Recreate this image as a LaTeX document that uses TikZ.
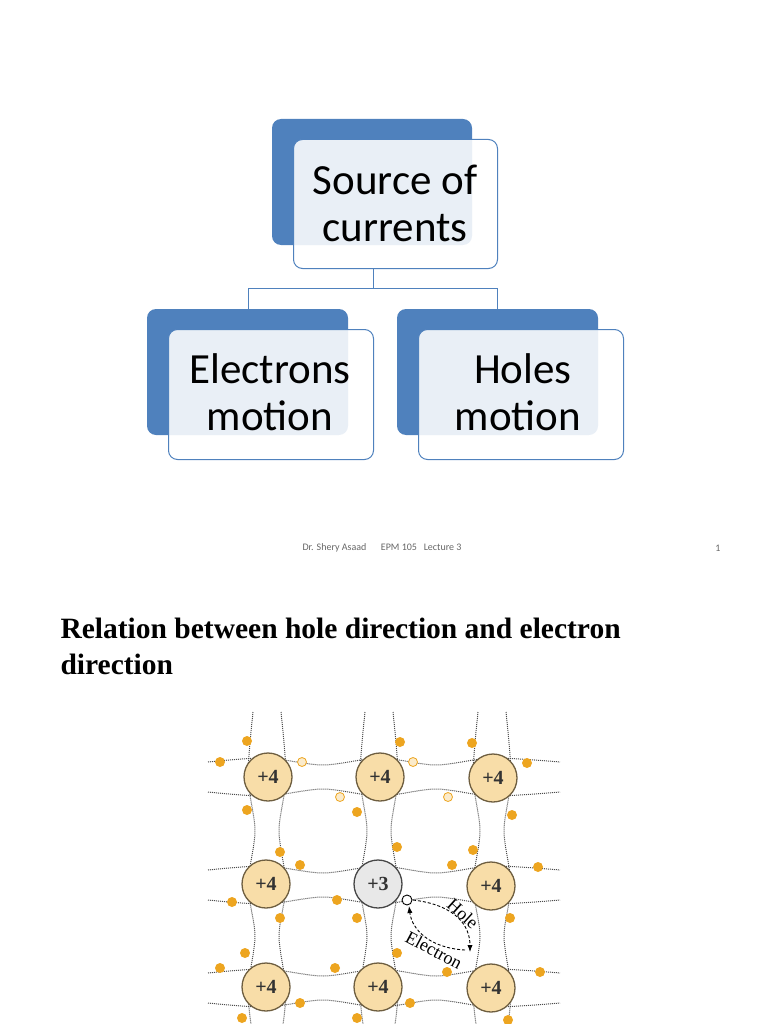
\documentclass[tikz,border=0pt]{standalone}
\usepackage{fontspec}
\setmainfont{Carlito}
\newfontfamily\tms{Liberation Serif}
\usetikzlibrary{arrows.meta}
\definecolor{bbl}{HTML}{4F81BD}
\definecolor{atomf}{HTML}{F8DDA8}
\definecolor{atomd}{HTML}{6E5E40}
\definecolor{elec}{HTML}{EDA520}
\begin{document}
\begin{tikzpicture}[x=1pt,y=-1pt,
  back/.style={fill=bbl,rounded corners=9pt},
  front/.style={draw=bbl,line width=1pt,fill=white,fill opacity=0.88,rounded corners=9pt},
  lbl/.style={font=\fontsize{43}{47}\selectfont,align=center,text=black},
  conn/.style={draw=bbl,line width=0.9pt},
  atom/.style={circle,draw=atomd,line width=1.3pt,fill=atomf,minimum size=48pt,inner sep=0pt,font=\tms\bfseries\fontsize{20}{20}\selectfont,text=black!80},
  bond/.style={densely dotted,gray!60!black,line width=1pt},
  e/.style={fill=elec},
  eh/.style={fill=atomf!60!white,draw=elec,line width=0.8pt},
  arl/.style={font=\tms\fontsize{18}{18}\selectfont,inner sep=1pt}]
\useasboundingbox (0,0) rectangle (768,1024);
% top diagram
\fill[back] (272,119) rectangle (472,245);
\fill[back] (147,309) rectangle (348,435);
\fill[back] (397,309) rectangle (598,435);
\node[front,minimum width=204pt,minimum height=129pt,anchor=north west] (src) at (293,139) {};
\node[front,minimum width=205pt,minimum height=130pt,anchor=north west] (el) at (168,329) {};
\node[front,minimum width=205pt,minimum height=130pt,anchor=north west] (ho) at (418,329) {};
\node[lbl] (srct) at (395,203) {Source of\\currents};
\node[lbl] (elt) at (270,392) {Electrons\\motion};
\node[lbl] (hot) at (518,392) {\ Holes\\motion};
\coordinate (j) at (373,288);
\coordinate (jl) at (248,288);
\coordinate (jr) at (497,288);
\coordinate (bl) at (248,309);
\coordinate (br) at (497,309);
\draw[conn] (373,268) -- (j) (jl) -- (jr) (jl) -- (bl) (jr) -- (br);
% footer
\node[font=\fontsize{10}{12}\selectfont,text=gray!80!black] (ft) at (382,548) {Dr. Shery Asaad\quad\ \ EPM 105\ \ \ Lecture 3};
\node[font=\fontsize{10}{12}\selectfont,text=gray!80!black] (pg) at (718,548) {1};
\node[font=\tms\bfseries\fontsize{29.5}{36}\selectfont,anchor=north west,align=left] (title) at (57,614) {Relation between hole direction and electron\\direction};
% lattice bonds
\foreach \y in {777,885,988}{
  \draw[bond] plot[smooth] coordinates {(208,\y-15) (266,\y-19) (323,\y-12) (380,\y-19) (436,\y-12) (492,\y-19) (560,\y-15)};
  \draw[bond] plot[smooth] coordinates {(208,\y+15) (266,\y+19) (323,\y+12) (380,\y+19) (436,\y+12) (492,\y+19) (560,\y+15)};
}
\foreach \x in {267,379,492}{
  \draw[bond] plot[smooth] coordinates {(\x-14,712) (\x-19,777) (\x-12,831) (\x-19,885) (\x-12,936) (\x-19,988) (\x-16,1024)};
  \draw[bond] plot[smooth] coordinates {(\x+14,712) (\x+19,777) (\x+12,831) (\x+19,885) (\x+12,936) (\x+19,988) (\x+16,1024)};
}
% atoms
\node[atom] (a11) at (268,777) {+4};
\node[atom] (a12) at (380,777) {+4};
\node[atom] (a13) at (493,778) {+4};
\node[atom] (a21) at (266,884) {+4};
\node[atom,fill=gray!18,draw=gray!55!black] (a22) at (378,884) {+3};
\node[atom] (a23) at (491,886) {+4};
\node[atom] (a31) at (266,987) {+4};
\node[atom] (a32) at (378,987) {+4};
\node[atom] (a33) at (491,988) {+4};
% electrons
\foreach \p in {(247,741),(220,762),(400,742),(472,743),(527,763),(247,810),(357,812),(512,815),
 (280,852),(397,847),(473,850),(300,865),(452,865),(538,867),(232,902),(337,900),(280,918),(357,918),(510,918),
 (245,953),(397,953),(220,968),(335,968),(447,972),(540,972),(300,1003),(410,1003),(242,1018),(357,1018),(508,1020)}
  \fill[e] \p circle (5pt);
\foreach \p in {(302,762),(413,762),(340,797),(448,797)}
  \filldraw[eh] \p circle (4.5pt);
% hole and arrows
\draw[black,line width=0.9pt,fill=white] (407,900) circle (5pt);
\coordinate (tgt) at (470,952);
\draw[densely dashed,line width=0.9pt,-{Latex[length=7pt]}] (413,900) .. controls (455,905) and (470,925) .. (tgt);
\draw[densely dashed,line width=0.9pt,-{Latex[length=7pt]}] (465,950) .. controls (430,948) and (412,930) .. (409,906);
\node[arl,rotate=-42] (holel) at (463,914) {Hole};
\node[arl,rotate=-28] (elecl) at (434,950) {Electron};
\end{tikzpicture}
\end{document}
